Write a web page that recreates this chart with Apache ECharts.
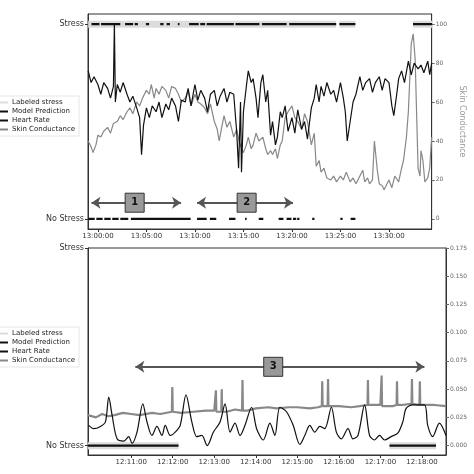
<!DOCTYPE html>
<html>
<head>
<meta charset="utf-8">
<script src="https://cdn.jsdelivr.net/npm/echarts@6/dist/echarts.min.js"></script>
<style>html,body{margin:0;padding:0;background:#fff}#chart{width:474px;height:474px}</style>
</head>
<body>
<div id="chart"></div>
<script>
// top panel: minutes after 13:00, values on the 0-100 right scale
var topHrT = [-1.0,-0.7,-0.4,0,0.3,0.6,1.0,1.3,1.6,1.7,1.8,2.0,2.3,2.6,3.0,3.3,3.6,4.0,4.3,4.5,4.7,5.0,5.3,5.6,6.0,6.3,6.6,7.0,7.3,7.6,8.0,8.3,8.6,9.0,9.3,9.6,10.0,10.3,10.6,11.0,11.3,11.6,12.0,12.3,12.6,13.0,13.3,13.6,14.0,14.3,14.5,14.7,14.8,15.0,15.3,15.5,15.8,16.0,16.3,16.5,16.8,17.0,17.3,17.5,17.8,18.0,18.3,18.5,18.8,19.0,19.3,19.6,20.0,20.3,20.6,21.0,21.3,21.6,22.0,22.3,22.5,22.8,23.0,23.3,23.6,24.0,24.3,24.6,25.0,25.3,25.5,25.7,26.0,26.3,26.6,27.0,27.3,27.6,28.0,28.3,28.6,29.0,29.3,29.6,30.0,30.3,30.5,30.8,31.0,31.3,31.6,32.0,32.3,32.6,33.0,33.3,33.6,34.0,34.2,34.4];
var topHrV = [76,70,73,69,64,70,67,62,68,100,60,69,65,70,64,60,63,57,52,33,48,57,52,58,55,60,52,59,56,62,58,50,61,60,67,58,69,61,66,62,55,64,66,58,63,67,60,65,64,45,26,60,24,55,68,76,70,72,62,52,70,74,60,66,43,50,38,42,55,52,58,45,52,44,56,46,50,41,57,62,69,60,68,63,70,64,66,60,70,62,55,40,50,60,64,73,66,70,72,65,70,73,66,72,70,58,53,64,72,76,70,81,74,80,77,79,75,81,74,80,72,67];
var topScT = [-1.0,-0.7,-0.5,-0.2,0,0.3,0.6,1.0,1.3,1.6,2.0,2.3,2.6,3.0,3.3,3.6,4.0,4.3,4.6,5.0,5.3,5.5,5.8,6.0,6.3,6.6,7.0,7.3,7.6,8.0,8.3,8.6,9.0,9.3,9.6,10.0,10.3,10.6,11.0,11.3,11.6,12.0,12.3,12.5,12.8,13.0,13.3,13.6,14.0,14.3,14.6,15.0,15.3,15.5,15.8,16.0,16.3,16.6,17.0,17.3,17.5,17.8,18.0,18.3,18.5,18.8,19.0,19.3,19.6,20.0,20.3,20.6,21.0,21.3,21.6,22.0,22.3,22.5,22.8,23.0,23.3,23.6,24.0,24.3,24.6,25.0,25.3,25.6,26.0,26.3,26.6,27.0,27.3,27.5,27.8,28.0,28.3,28.5,28.8,29.0,29.3,29.5,29.8,30.0,30.3,30.6,31.0,31.3,31.5,31.8,32.0,32.2,32.3,32.5,32.7,33.0,33.2,33.3,33.5,33.7,34.0,34.2,34.4];
var topScV = [40,37,34,38,43,42,45,47,44,49,50,53,51,55,57,54,60,58,62,66,64,69,62,67,64,68,66,62,68,67,64,60,62,66,58,64,60,59,57,54,59,50,46,40,48,53,47,50,42,46,39,34,38,42,36,38,44,40,42,36,33,35,33,36,31,38,40,52,55,58,52,50,46,54,50,38,44,27,30,24,26,21,20,22,19,22,20,24,19,21,18,22,25,19,21,18,20,40,25,18,17,15,18,20,16,22,19,26,30,42,55,78,90,95,82,26,22,35,30,19,21,26,42];
var topStressLabel = [[-1.0,24.56],[24.89,26.54],[32.48,34.45]];
var topStressPred = [[-0.66,0.16],[0.33,2.31],[2.80,3.63],[3.79,4.12],[4.95,5.28],[6.43,6.76],[7.09,7.42],[8.24,8.41],[9.40,10.39],[10.55,11.05],[11.21,14.01],[14.18,16.65],[16.91,19.45],[19.72,24.56],[24.89,26.54],[32.48,34.45]];
var topNoStressPred = [[-0.99,-0.33],[-0.16,0.49],[0.66,1.32],[1.48,2.14],[2.31,3.13],[3.40,9.56],[10.22,11.21],[11.54,12.20],[13.52,14.18],[15.17,15.33],[16.58,17.05],[18.63,19.12],[19.45,19.95],[20.11,20.44],[20.54,20.77],[22.09,22.32],[24.99,25.22],[26.05,26.54]];
var topTicks = [0,5,10,15,20,25,30];
var topTickLabels = ['13:00:00','13:05:00','13:10:00','13:15:00','13:20:00','13:25:00','13:30:00'];
var topRightTicks = [0,20,40,60,80,100];
var topArrows = [[-0.66,8.57,3.79,'1'],[10.22,20.11,15.33,'2']];

// bottom panel: minutes after 12:10
var botHrT = [-0.02,0.10,0.26,0.38,0.46,0.54,0.66,0.82,0.94,1.02,1.14,1.28,1.38,1.50,1.62,1.74,1.82,1.94,2.06,2.18,2.32,2.46,2.58,2.70,2.83,2.98,3.14,3.26,3.38,3.50,3.62,3.74,3.90,4.02,4.18,4.34,4.46,4.58,4.74,4.90,5.06,5.18,5.30,5.42,5.54,5.66,5.82,5.94,6.06,6.22,6.34,6.46,6.62,6.74,6.86,6.98,7.10,7.26,7.42,7.54,7.62,7.78,8.06,8.14,8.26,8.42,8.58];
var botHrV = [0.018,0.015,0.017,0.021,0.043,0.027,0.006,0.004,0.008,0.002,0.012,0.037,0.021,0.009,0.017,0.009,0.018,0.009,0.012,0.018,0.045,0.021,0.008,0.009,0.000,0.012,0.021,0.037,0.012,0.020,0.009,0.018,0.034,0.015,0.005,0.020,0.009,0.034,0.030,0.018,0.001,0.009,0.018,0.012,0.017,0.015,0.034,0.012,0.006,0.015,0.006,0.009,0.036,0.009,0.005,0.009,0.005,0.008,0.011,0.021,0.033,0.036,0.036,0.018,0.008,0.020,0.009];
var botScT = [-0.04,0.15,0.3,0.45,0.6,0.8,1.0,1.2,1.5,1.7,2.0,2.2,2.5,2.8,3.0,3.3,3.5,3.8,4.0,4.3,4.5,4.8,5.0,5.3,5.5,5.8,6.0,6.3,6.5,6.8,7.0,7.3,7.5,7.8,8.0,8.3,8.58];
var botScV = [0.027,0.025,0.028,0.026,0.027,0.029,0.028,0.027,0.029,0.028,0.030,0.029,0.030,0.031,0.031,0.030,0.032,0.031,0.033,0.034,0.033,0.034,0.034,0.033,0.034,0.035,0.035,0.034,0.035,0.036,0.036,0.035,0.036,0.037,0.036,0.036,0.035];
var botSpikeT = [1.99,3.04,3.18,3.68,5.60,5.74,6.70,7.03,7.40,7.76,7.95];
var botSpikeV = [0.052,0.049,0.050,0.058,0.057,0.059,0.058,0.062,0.057,0.059,0.057];
var botStress = [[-0.04,2.14],[7.22,8.34]];
var botTicks = [1,2,3,4,5,6,7,8];
var botTickLabels = ['12:11:00','12:12:00','12:13:00','12:14:00','12:15:00','12:16:00','12:17:00','12:18:00'];
var botRightTicks = [0,0.025,0.05,0.075,0.1,0.125,0.15,0.175];
var botArrows = [[1.10,8.06,4.42,'3']];

function pairs(t, v) { return t.map(function (x, i) { return [x, v[i]]; }); }
function segs(list, y) {
  var out = [];
  list.forEach(function (s) { out.push([s[0], y], [s[1], y], [s[1], '-']); });
  return out;
}
var botSc = pairs(botScT, botScV);
botSpikeT.forEach(function (t, i) {
  var base = botScV[botScT.findIndex(function (x) { return x > t; })];
  botSc.push([t - 0.01, base], [t, botSpikeV[i]], [t + 0.01, base]);
});
botSc.sort(function (a, b) { return a[0] - b[0]; });

var fmtTop = function (v) { var i = topTicks.indexOf(v); return i < 0 ? '' : topTickLabels[i]; };
var fmtBot = function (v) { var i = botTicks.indexOf(v); return i < 0 ? '' : botTickLabels[i]; };
var tickFont = { fontSize: 7, color: '#333', fontFamily: 'DejaVu Sans' };

function xAxis(grid, min, max, ticks, fmt) {
  return { type: 'value', gridIndex: grid, min: min, max: max,
    axisLine: { onZero: false, lineStyle: { color: '#333' } }, splitLine: { show: false },
    axisTick: { customValues: ticks, length: 3, lineStyle: { color: '#333' } },
    axisLabel: Object.assign({ customValues: ticks, formatter: fmt, margin: 4 }, tickFont) };
}
function leftAxis(grid, min, max, hi) {
  return { type: 'value', gridIndex: grid, min: min, max: max, position: 'left',
    axisLine: { show: true, onZero: false, lineStyle: { color: '#333' } }, splitLine: { show: false },
    axisTick: { customValues: [0, hi], length: 3, lineStyle: { color: '#333' } },
    axisLabel: Object.assign({ customValues: [0, hi], margin: 4,
      formatter: function (v) { return v === 0 ? 'No Stress' : 'Stress'; } }, tickFont, { fontSize: 8 }) };
}
function rightAxis(grid, min, max, ticks, fmt, name) {
  return { type: 'value', gridIndex: grid, min: min, max: max, position: 'right',
    name: name, nameLocation: 'middle', nameGap: 14, nameRotate: -90,
    nameTextStyle: { color: '#999', fontSize: 8, fontFamily: 'DejaVu Sans', verticalAlign: 'bottom' },
    axisLine: { show: true, onZero: false, lineStyle: { color: '#333' } }, splitLine: { show: false },
    axisTick: { customValues: ticks, length: 3, lineStyle: { color: '#666' } },
    axisLabel: Object.assign({ customValues: ticks, formatter: fmt, margin: 4 }, tickFont, { color: '#666', fontSize: 6 }) };
}
function arrowSeries(xi, yi, arrows, y) {
  return arrows.map(function (a) {
    return { type: 'line', xAxisIndex: xi, yAxisIndex: yi, data: [], silent: true,
      markLine: { silent: true, symbol: ['arrow', 'arrow'], symbolSize: [9, 9],
        lineStyle: { color: '#555', width: 2, type: 'solid' }, label: { show: false },
        data: [[{ coord: [a[0], y] }, { coord: [a[1], y] }]] },
      markPoint: { symbol: 'rect', symbolSize: [19, 19],
        itemStyle: { color: '#999', borderColor: '#333', borderWidth: 1 },
        label: { show: true, formatter: a[3], color: '#111', fontSize: 10, fontWeight: 'bold', fontFamily: 'DejaVu Sans' },
        data: [{ coord: [a[2], y] }] } };
  });
}

var chart = echarts.init(document.getElementById('chart'));
var series = [
  { name: 'Labeled stress', type: 'line', xAxisIndex: 0, yAxisIndex: 0, data: segs(topStressLabel, 100), symbol: 'none', lineStyle: { color: '#dcdcdc', width: 7 }, itemStyle: { color: '#dcdcdc' } },
  { name: 'Model Prediction', type: 'line', xAxisIndex: 0, yAxisIndex: 0, data: segs(topStressPred, 100).concat(segs(topNoStressPred, 0)), symbol: 'none', lineStyle: { color: '#111', width: 2.2 }, itemStyle: { color: '#111' } },
  { name: 'Skin Conductance', type: 'line', xAxisIndex: 0, yAxisIndex: 1, data: pairs(topScT, topScV), symbol: 'none', lineStyle: { color: '#888', width: 1.2 }, itemStyle: { color: '#888' } },
  { name: 'Heart Rate', type: 'line', xAxisIndex: 0, yAxisIndex: 1, data: pairs(topHrT, topHrV), symbol: 'none', lineStyle: { color: '#111', width: 1.2 }, itemStyle: { color: '#111' } },
  { name: 'Labeled stress', type: 'line', xAxisIndex: 1, yAxisIndex: 2, data: segs(botStress, 0), symbol: 'none', lineStyle: { color: '#dcdcdc', width: 7 } },
  { name: 'Model Prediction', type: 'line', xAxisIndex: 1, yAxisIndex: 2, data: segs(botStress, 0), symbol: 'none', lineStyle: { color: '#111', width: 2.2 } },
  { name: 'Skin Conductance', type: 'line', xAxisIndex: 1, yAxisIndex: 3, data: botSc, symbol: 'none', lineStyle: { color: '#888', width: 2.2 } },
  { name: 'Heart Rate', type: 'line', xAxisIndex: 1, yAxisIndex: 3, data: pairs(botHrT, botHrV), symbol: 'none', smooth: 0.3, lineStyle: { color: '#111', width: 1.2 } }
].concat(arrowSeries(0, 1, topArrows, 8.3), arrowSeries(1, 3, botArrows, 0.0698));

function legend(top) {
  return { orient: 'vertical', left: -6, top: top, itemWidth: 10, itemHeight: 2, itemGap: 2,
    padding: [3, 4, 3, 4], backgroundColor: '#fff', borderColor: '#e6e6e6', borderWidth: 1,
    icon: 'rect', data: ['Labeled stress', 'Model Prediction', 'Heart Rate', 'Skin Conductance'],
    textStyle: { fontSize: 7, color: '#222', fontFamily: 'DejaVu Sans', padding: [0, 0, 0, -1] } };
}

chart.setOption({
  animation: false,
  backgroundColor: '#fff',
  grid: [
    { left: 88, right: 28, top: 14, height: 215, show: true, borderColor: '#333', borderWidth: 1 },
    { left: 88, right: 28, top: 248, height: 207, show: true, borderColor: '#333', borderWidth: 1 }
  ],
  legend: [legend(96), legend(327)],
  xAxis: [xAxis(0, -1.02, 34.4, topTicks, fmtTop), xAxis(1, -0.04, 8.58, botTicks, fmtBot)],
  yAxis: [
    leftAxis(0, -5.2, 105.2, 100),
    rightAxis(0, -5.2, 105.2, topRightTicks, function (v) { return String(v); }, 'Skin Conductance'),
    leftAxis(1, -0.0083, 0.175, 0.175),
    rightAxis(1, -0.0083, 0.175, botRightTicks, function (v) { return v.toFixed(3); }, '')
  ],
  series: series
});
</script>
</body>
</html>
